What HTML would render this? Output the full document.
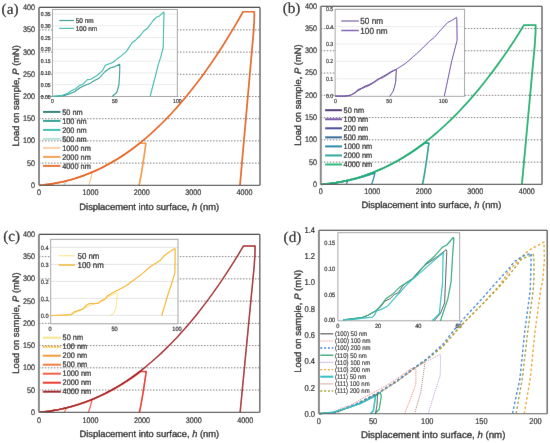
<!DOCTYPE html>
<html><head><meta charset="utf-8"><style>
html,body{margin:0;padding:0;background:#fff;}
svg{display:block;} text{text-rendering:geometricPrecision;}
</style></head><body>
<svg width="550" height="443" viewBox="0 0 550 443">
<defs><filter id="bl" x="-1%" y="-1%" width="102%" height="102%"><feConvolveMatrix order="3" kernelMatrix="0 1 0 1 16 1 0 1 0" edgeMode="duplicate"/></filter></defs>
<rect width="550" height="443" fill="#fff"/>
<g filter="url(#bl)">
<rect width="550" height="443" fill="#fff"/>
<line x1="39" y1="163.1" x2="260" y2="163.1" stroke="#7a7a7a" stroke-width="1.0" stroke-dasharray="1.5,1.5" stroke-linecap="butt"/>
<line x1="39" y1="140.9" x2="260" y2="140.9" stroke="#7a7a7a" stroke-width="1.0" stroke-dasharray="1.5,1.5" stroke-linecap="butt"/>
<line x1="39" y1="118.7" x2="260" y2="118.7" stroke="#7a7a7a" stroke-width="1.0" stroke-dasharray="1.5,1.5" stroke-linecap="butt"/>
<line x1="39" y1="96.5" x2="260" y2="96.5" stroke="#7a7a7a" stroke-width="1.0" stroke-dasharray="1.5,1.5" stroke-linecap="butt"/>
<line x1="39" y1="74.3" x2="260" y2="74.3" stroke="#7a7a7a" stroke-width="1.0" stroke-dasharray="1.5,1.5" stroke-linecap="butt"/>
<line x1="39" y1="52.1" x2="260" y2="52.1" stroke="#7a7a7a" stroke-width="1.0" stroke-dasharray="1.5,1.5" stroke-linecap="butt"/>
<line x1="39" y1="29.9" x2="260" y2="29.9" stroke="#7a7a7a" stroke-width="1.0" stroke-dasharray="1.5,1.5" stroke-linecap="butt"/>
<rect x="52.4" y="9.5" width="124.9" height="87" fill="#fff" stroke="none" stroke-width="1"/>
<line x1="52.4" y1="84.7" x2="177.3" y2="84.7" stroke="#e2e2e2" stroke-width="0.7" stroke-linecap="butt"/>
<line x1="52.4" y1="72.9" x2="177.3" y2="72.9" stroke="#e2e2e2" stroke-width="0.7" stroke-linecap="butt"/>
<line x1="52.4" y1="61.1" x2="177.3" y2="61.1" stroke="#e2e2e2" stroke-width="0.7" stroke-linecap="butt"/>
<line x1="52.4" y1="49.3" x2="177.3" y2="49.3" stroke="#e2e2e2" stroke-width="0.7" stroke-linecap="butt"/>
<line x1="52.4" y1="37.5" x2="177.3" y2="37.5" stroke="#e2e2e2" stroke-width="0.7" stroke-linecap="butt"/>
<line x1="52.4" y1="25.7" x2="177.3" y2="25.7" stroke="#e2e2e2" stroke-width="0.7" stroke-linecap="butt"/>
<line x1="52.4" y1="13.9" x2="177.3" y2="13.9" stroke="#e2e2e2" stroke-width="0.7" stroke-linecap="butt"/>
<rect x="52.4" y="9.5" width="124.9" height="87" fill="none" stroke="#9a9a9a" stroke-width="0.9"/>
<text transform="translate(50.6,98.5) scale(1,1.1)" x="0" y="0" font-size="5.1" text-anchor="end" fill="#2a2a2a" stroke="#2a2a2a" stroke-width="0.2" font-family='"Liberation Sans", sans-serif'>0.00</text>
<text transform="translate(50.6,86.7) scale(1,1.1)" x="0" y="0" font-size="5.1" text-anchor="end" fill="#2a2a2a" stroke="#2a2a2a" stroke-width="0.2" font-family='"Liberation Sans", sans-serif'>0.05</text>
<text transform="translate(50.6,74.9) scale(1,1.1)" x="0" y="0" font-size="5.1" text-anchor="end" fill="#2a2a2a" stroke="#2a2a2a" stroke-width="0.2" font-family='"Liberation Sans", sans-serif'>0.10</text>
<text transform="translate(50.6,63.1) scale(1,1.1)" x="0" y="0" font-size="5.1" text-anchor="end" fill="#2a2a2a" stroke="#2a2a2a" stroke-width="0.2" font-family='"Liberation Sans", sans-serif'>0.15</text>
<text transform="translate(50.6,51.3) scale(1,1.1)" x="0" y="0" font-size="5.1" text-anchor="end" fill="#2a2a2a" stroke="#2a2a2a" stroke-width="0.2" font-family='"Liberation Sans", sans-serif'>0.20</text>
<text transform="translate(50.6,39.5) scale(1,1.1)" x="0" y="0" font-size="5.1" text-anchor="end" fill="#2a2a2a" stroke="#2a2a2a" stroke-width="0.2" font-family='"Liberation Sans", sans-serif'>0.25</text>
<text transform="translate(50.6,27.7) scale(1,1.1)" x="0" y="0" font-size="5.1" text-anchor="end" fill="#2a2a2a" stroke="#2a2a2a" stroke-width="0.2" font-family='"Liberation Sans", sans-serif'>0.30</text>
<text transform="translate(50.6,15.9) scale(1,1.1)" x="0" y="0" font-size="5.1" text-anchor="end" fill="#2a2a2a" stroke="#2a2a2a" stroke-width="0.2" font-family='"Liberation Sans", sans-serif'>0.35</text>
<text transform="translate(52.4,102.6) scale(1,1.1)" x="0" y="0" font-size="5.1" text-anchor="middle" fill="#2a2a2a" stroke="#2a2a2a" stroke-width="0.2" font-family='"Liberation Sans", sans-serif'>0</text>
<text transform="translate(114.85,102.6) scale(1,1.1)" x="0" y="0" font-size="5.1" text-anchor="middle" fill="#2a2a2a" stroke="#2a2a2a" stroke-width="0.2" font-family='"Liberation Sans", sans-serif'>50</text>
<text transform="translate(177.3,102.6) scale(1,1.1)" x="0" y="0" font-size="5.1" text-anchor="middle" fill="#2a2a2a" stroke="#2a2a2a" stroke-width="0.2" font-family='"Liberation Sans", sans-serif'>100</text>
<polyline points="52.4,96.3 55.5,96.3 63.6,95.7 69.1,93.9 74.6,91.8 80,87.7 84.1,85.7 89.6,83.6 95,80.2 99.1,78.2 104.6,72 110,68 114.8,66.6 119.6,64.3 119.8,66 119.6,74.1 118.9,85 116.8,92.5 112.1,96.5" fill="none" stroke="#22998f" stroke-width="1.1" stroke-linejoin="round" stroke-linecap="butt"/>
<polyline points="52.4,96.3 54.1,96.3 62.3,95.2 67.7,93.2 71.8,90.5 75.2,89.1 79.3,85.7 82.7,84.3 87.5,79.6 90.9,79.3 93.7,77.5 97.1,75.5 102.5,70.7 105.3,65.2 108.7,63.9 112.8,62.5 116.8,59.1 120,56.8 126.2,51.6 130.4,45.4 132.5,42.3 135.6,40.2 140.8,35 143.9,30.8 147,28.8 153.2,20.5 156.3,17.3 159.5,15.9 163.6,12.2 164,12.6 163.6,28.8 163.2,47.5 160.5,57.8 158.4,64.1 155.3,76.5 150.1,96.5" fill="none" stroke="#2bb8ac" stroke-width="1.1" stroke-linejoin="round" stroke-linecap="butt"/>
<line x1="59.3" y1="20.5" x2="74" y2="20.5" stroke="#22998f" stroke-width="1.2" stroke-linecap="butt"/>
<text transform="translate(75.8,22.93) scale(1,1.08)" x="0" y="0" font-size="6.4" text-anchor="start" fill="#222" stroke="#222" stroke-width="0.22" font-family='"Liberation Sans", sans-serif'>50 nm</text>
<line x1="59.3" y1="28.4" x2="74" y2="28.4" stroke="#2bb8ac" stroke-width="1.2" stroke-linecap="butt"/>
<text transform="translate(75.8,30.83) scale(1,1.08)" x="0" y="0" font-size="6.4" text-anchor="start" fill="#222" stroke="#222" stroke-width="0.22" font-family='"Liberation Sans", sans-serif'>100 nm</text>
<polyline points="39,185.3 39.64,185.25 40.28,185.2 40.93,185.14 41.57,185.08 42.21,185.02 42.85,184.96 43.5,184.9 44.14,184.83 44.78,184.76 45.42,184.69 46.07,184.61 46.71,184.53 47.35,184.45 48,184.37 48.64,184.28 49.28,184.2 49.92,184.1 50.56,184.01 51.21,183.91 51.85,183.82 52.49,183.72 53.13,183.61 53.78,183.5 54.42,183.4 55.06,183.28 55.7,183.17 56.35,183.05 56.99,182.93 57.63,182.81 58.28,182.69 58.92,182.56 59.56,182.43 60.2,182.29 60.84,182.16 61.49,182.02 62.13,181.88 62.77,181.74 63.41,181.59 64.06,181.44 64.7,181.29 66.24,181.29 66.09,181.57 65.93,181.84 65.78,182.1 65.63,182.36 65.47,182.62 65.32,182.86 65.16,183.1 65.01,183.34 64.85,183.56 64.7,183.78 64.55,183.99 64.39,184.19 64.24,184.38 64.08,184.56 63.93,184.72 63.77,184.88 63.62,185.02 63.47,185.14 63.31,185.24 63.16,185.3" fill="none" stroke="#a8ddd6" stroke-width="1.2" stroke-linejoin="round" stroke-linecap="butt"/>
<polyline points="39,185.3 40.27,185.2 41.54,185.09 42.82,184.97 44.09,184.83 45.36,184.69 46.63,184.54 47.91,184.38 49.18,184.21 50.45,184.03 51.72,183.84 52.99,183.63 54.27,183.42 55.54,183.2 56.81,182.97 58.08,182.72 59.35,182.47 60.63,182.21 61.9,181.93 63.17,181.64 64.44,181.35 65.72,181.04 66.99,180.72 68.26,180.4 69.53,180.06 70.8,179.71 72.08,179.35 73.35,178.97 74.62,178.59 75.89,178.2 77.16,177.79 78.44,177.37 79.71,176.95 80.98,176.51 82.25,176.06 83.53,175.59 84.8,175.12 86.07,174.64 87.34,174.14 88.61,173.63 89.89,173.11 91.94,173.11 91.76,173.96 91.58,174.79 91.4,175.59 91.22,176.38 91.04,177.15 90.86,177.9 90.68,178.63 90.5,179.34 90.32,180.02 90.14,180.68 89.96,181.32 89.78,181.92 89.6,182.5 89.42,183.04 89.24,183.55 89.06,184.02 88.88,184.44 88.7,184.81 88.52,185.12 88.34,185.3" fill="none" stroke="#f8c490" stroke-width="1.2" stroke-linejoin="round" stroke-linecap="butt"/>
<polyline points="39,185.3 41.53,185.09 44.05,184.84 46.58,184.55 49.1,184.23 51.63,183.86 54.15,183.45 56.68,183.01 59.2,182.52 61.73,181.99 64.25,181.42 66.78,180.81 69.3,180.16 71.83,179.46 74.35,178.72 76.88,177.94 79.4,177.11 81.93,176.24 84.45,175.32 86.98,174.36 89.5,173.36 92.03,172.31 94.55,171.21 97.08,170.07 99.6,168.88 102.13,167.64 104.65,166.36 107.18,165.03 109.7,163.65 112.23,162.22 114.75,160.74 117.28,159.22 119.8,157.64 122.33,156.01 124.85,154.34 127.38,152.61 129.9,150.84 132.43,149.01 134.95,147.13 137.48,145.19 140,143.21 145.91,143.21 145.57,145.72 145.22,148.21 144.87,150.67 144.52,153.1 144.18,155.5 143.83,157.86 143.48,160.2 143.14,162.5 142.79,164.76 142.44,166.98 142.1,169.15 141.75,171.28 141.4,173.36 141.05,175.37 140.71,177.33 140.36,179.2 140.01,180.98 139.67,182.64 139.32,184.14 138.97,185.3" fill="none" stroke="#f59335" stroke-width="1.6" stroke-linejoin="round" stroke-linecap="butt"/>
<polyline points="39,185.3 44.1,184.83 49.2,184.21 54.3,183.42 59.41,182.46 64.51,181.33 69.61,180.04 74.71,178.56 79.81,176.91 84.91,175.08 90.01,173.06 95.12,170.86 100.22,168.46 105.32,165.87 110.42,163.09 115.52,160.1 120.62,156.92 125.72,153.52 130.83,149.92 135.93,146.11 141.03,142.08 146.13,137.84 151.23,133.37 156.33,128.68 161.43,123.76 166.54,118.61 171.64,113.23 176.74,107.62 181.84,101.76 186.94,95.67 192.04,89.32 197.14,82.73 202.25,75.89 207.35,68.8 212.45,61.44 217.55,53.83 222.65,45.95 227.75,37.81 232.86,29.4 237.96,20.71 243.06,11.75 254.37,11.75 254.22,20.43 253.5,32.58 239.97,185.3" fill="none" stroke="#e6620f" stroke-width="1.7" stroke-linejoin="round" stroke-linecap="butt"/>
<line x1="39" y1="185.3" x2="260" y2="185.3" stroke="#5a5a5a" stroke-width="1.15" stroke-linecap="butt"/>
<line x1="260" y1="7.4" x2="260" y2="185.3" stroke="#6a6a6a" stroke-width="1.5" stroke-linecap="butt"/>
<line x1="39" y1="7.4" x2="260" y2="7.4" stroke="#2a2a2a" stroke-width="1.1" stroke-linecap="butt"/>
<line x1="39" y1="7.4" x2="39" y2="185.3" stroke="#888" stroke-width="2" stroke-linecap="butt"/>
<line x1="43" y1="111.9" x2="60.5" y2="111.9" stroke="#1d8078" stroke-width="2" stroke-linecap="butt"/>
<text transform="translate(62.2,114.69) scale(1,1.08)" x="0" y="0" font-size="7.35" text-anchor="start" fill="#222" stroke="#222" stroke-width="0.22" font-family='"Liberation Sans", sans-serif'>50 nm</text>
<line x1="43" y1="120.9" x2="60.5" y2="120.9" stroke="#21a096" stroke-width="2" stroke-linecap="butt"/>
<text transform="translate(62.2,123.69) scale(1,1.08)" x="0" y="0" font-size="7.35" text-anchor="start" fill="#222" stroke="#222" stroke-width="0.22" font-family='"Liberation Sans", sans-serif'>100 nm</text>
<line x1="43" y1="129.9" x2="60.5" y2="129.9" stroke="#2fc0b2" stroke-width="2" stroke-linecap="butt"/>
<text transform="translate(62.2,132.69) scale(1,1.08)" x="0" y="0" font-size="7.35" text-anchor="start" fill="#222" stroke="#222" stroke-width="0.22" font-family='"Liberation Sans", sans-serif'>200 nm</text>
<line x1="43" y1="138.9" x2="60.5" y2="138.9" stroke="#b4e2dc" stroke-width="2" stroke-linecap="butt"/>
<text transform="translate(62.2,141.69) scale(1,1.08)" x="0" y="0" font-size="7.35" text-anchor="start" fill="#222" stroke="#222" stroke-width="0.22" font-family='"Liberation Sans", sans-serif'>500 nm</text>
<line x1="43" y1="147.9" x2="60.5" y2="147.9" stroke="#fad0a6" stroke-width="2" stroke-linecap="butt"/>
<text transform="translate(62.2,150.69) scale(1,1.08)" x="0" y="0" font-size="7.35" text-anchor="start" fill="#222" stroke="#222" stroke-width="0.22" font-family='"Liberation Sans", sans-serif'>1000 nm</text>
<line x1="43" y1="156.9" x2="60.5" y2="156.9" stroke="#f5a24e" stroke-width="2" stroke-linecap="butt"/>
<text transform="translate(62.2,159.69) scale(1,1.08)" x="0" y="0" font-size="7.35" text-anchor="start" fill="#222" stroke="#222" stroke-width="0.22" font-family='"Liberation Sans", sans-serif'>2000 nm</text>
<line x1="43" y1="165.9" x2="60.5" y2="165.9" stroke="#e8701e" stroke-width="2" stroke-linecap="butt"/>
<text transform="translate(62.2,168.69) scale(1,1.08)" x="0" y="0" font-size="7.35" text-anchor="start" fill="#222" stroke="#222" stroke-width="0.22" font-family='"Liberation Sans", sans-serif'>4000 nm</text>
<text transform="translate(35,187.75) scale(1,1.13)" x="0" y="0" font-size="7.2" text-anchor="end" fill="#222" stroke="#222" stroke-width="0.18" font-family='"Liberation Sans", sans-serif'>0</text>
<text transform="translate(35,165.55) scale(1,1.13)" x="0" y="0" font-size="7.2" text-anchor="end" fill="#222" stroke="#222" stroke-width="0.18" font-family='"Liberation Sans", sans-serif'>50</text>
<text transform="translate(35,143.35) scale(1,1.13)" x="0" y="0" font-size="7.2" text-anchor="end" fill="#222" stroke="#222" stroke-width="0.18" font-family='"Liberation Sans", sans-serif'>100</text>
<text transform="translate(35,121.15) scale(1,1.13)" x="0" y="0" font-size="7.2" text-anchor="end" fill="#222" stroke="#222" stroke-width="0.18" font-family='"Liberation Sans", sans-serif'>150</text>
<text transform="translate(35,98.95) scale(1,1.13)" x="0" y="0" font-size="7.2" text-anchor="end" fill="#222" stroke="#222" stroke-width="0.18" font-family='"Liberation Sans", sans-serif'>200</text>
<text transform="translate(35,76.75) scale(1,1.13)" x="0" y="0" font-size="7.2" text-anchor="end" fill="#222" stroke="#222" stroke-width="0.18" font-family='"Liberation Sans", sans-serif'>250</text>
<text transform="translate(35,54.55) scale(1,1.13)" x="0" y="0" font-size="7.2" text-anchor="end" fill="#222" stroke="#222" stroke-width="0.18" font-family='"Liberation Sans", sans-serif'>300</text>
<text transform="translate(35,32.35) scale(1,1.13)" x="0" y="0" font-size="7.2" text-anchor="end" fill="#222" stroke="#222" stroke-width="0.18" font-family='"Liberation Sans", sans-serif'>350</text>
<text transform="translate(35,10.15) scale(1,1.13)" x="0" y="0" font-size="7.2" text-anchor="end" fill="#222" stroke="#222" stroke-width="0.18" font-family='"Liberation Sans", sans-serif'>400</text>
<text transform="translate(39,195.2) scale(1,1.13)" x="0" y="0" font-size="7.2" text-anchor="middle" fill="#222" stroke="#222" stroke-width="0.18" font-family='"Liberation Sans", sans-serif'>0</text>
<text transform="translate(90.4,195.2) scale(1,1.13)" x="0" y="0" font-size="7.2" text-anchor="middle" fill="#222" stroke="#222" stroke-width="0.18" font-family='"Liberation Sans", sans-serif'>1000</text>
<text transform="translate(141.8,195.2) scale(1,1.13)" x="0" y="0" font-size="7.2" text-anchor="middle" fill="#222" stroke="#222" stroke-width="0.18" font-family='"Liberation Sans", sans-serif'>2000</text>
<text transform="translate(193.2,195.2) scale(1,1.13)" x="0" y="0" font-size="7.2" text-anchor="middle" fill="#222" stroke="#222" stroke-width="0.18" font-family='"Liberation Sans", sans-serif'>3000</text>
<text transform="translate(244.6,195.2) scale(1,1.13)" x="0" y="0" font-size="7.2" text-anchor="middle" fill="#222" stroke="#222" stroke-width="0.18" font-family='"Liberation Sans", sans-serif'>4000</text>
<text x="149.2" y="209.5" font-size="9.35" text-anchor="middle" fill="#222" stroke="#222" stroke-width="0.3" font-family='"Liberation Sans", sans-serif'>Displacement into surface, <tspan font-style="italic">h</tspan> (nm)</text>
<text transform="translate(19,95.75) rotate(-90)" x="0" y="0" font-size="9.35" text-anchor="middle" fill="#222" stroke="#222" stroke-width="0.3" font-family='"Liberation Sans", sans-serif'>Load on sample, <tspan font-style="italic">P</tspan> (mN)</text>
<text x="1.6" y="13.6" font-size="15.2" text-anchor="start" fill="#151515" stroke="#151515" stroke-width="0.2" font-family='"Liberation Serif", serif'>(a)</text>
<line x1="320.8" y1="162.12" x2="542" y2="162.12" stroke="#7a7a7a" stroke-width="1.0" stroke-dasharray="1.5,1.5" stroke-linecap="butt"/>
<line x1="320.8" y1="139.85" x2="542" y2="139.85" stroke="#7a7a7a" stroke-width="1.0" stroke-dasharray="1.5,1.5" stroke-linecap="butt"/>
<line x1="320.8" y1="117.58" x2="542" y2="117.58" stroke="#7a7a7a" stroke-width="1.0" stroke-dasharray="1.5,1.5" stroke-linecap="butt"/>
<line x1="320.8" y1="95.3" x2="542" y2="95.3" stroke="#7a7a7a" stroke-width="1.0" stroke-dasharray="1.5,1.5" stroke-linecap="butt"/>
<line x1="320.8" y1="73.03" x2="542" y2="73.03" stroke="#7a7a7a" stroke-width="1.0" stroke-dasharray="1.5,1.5" stroke-linecap="butt"/>
<line x1="320.8" y1="50.75" x2="542" y2="50.75" stroke="#7a7a7a" stroke-width="1.0" stroke-dasharray="1.5,1.5" stroke-linecap="butt"/>
<line x1="320.8" y1="28.48" x2="542" y2="28.48" stroke="#7a7a7a" stroke-width="1.0" stroke-dasharray="1.5,1.5" stroke-linecap="butt"/>
<rect x="335.1" y="9.3" width="129.5" height="87" fill="#fff" stroke="none" stroke-width="1"/>
<line x1="335.1" y1="78.8" x2="464.6" y2="78.8" stroke="#e2e2e2" stroke-width="0.7" stroke-linecap="butt"/>
<line x1="335.1" y1="61.4" x2="464.6" y2="61.4" stroke="#e2e2e2" stroke-width="0.7" stroke-linecap="butt"/>
<line x1="335.1" y1="44" x2="464.6" y2="44" stroke="#e2e2e2" stroke-width="0.7" stroke-linecap="butt"/>
<line x1="335.1" y1="26.6" x2="464.6" y2="26.6" stroke="#e2e2e2" stroke-width="0.7" stroke-linecap="butt"/>
<line x1="335.1" y1="9.2" x2="464.6" y2="9.2" stroke="#e2e2e2" stroke-width="0.7" stroke-linecap="butt"/>
<rect x="335.1" y="9.3" width="129.5" height="87" fill="none" stroke="#9a9a9a" stroke-width="0.9"/>
<text transform="translate(333.3,98.2) scale(1,1.1)" x="0" y="0" font-size="5.3" text-anchor="end" fill="#2a2a2a" stroke="#2a2a2a" stroke-width="0.2" font-family='"Liberation Sans", sans-serif'>0.0</text>
<text transform="translate(333.3,80.8) scale(1,1.1)" x="0" y="0" font-size="5.3" text-anchor="end" fill="#2a2a2a" stroke="#2a2a2a" stroke-width="0.2" font-family='"Liberation Sans", sans-serif'>0.1</text>
<text transform="translate(333.3,63.4) scale(1,1.1)" x="0" y="0" font-size="5.3" text-anchor="end" fill="#2a2a2a" stroke="#2a2a2a" stroke-width="0.2" font-family='"Liberation Sans", sans-serif'>0.2</text>
<text transform="translate(333.3,46) scale(1,1.1)" x="0" y="0" font-size="5.3" text-anchor="end" fill="#2a2a2a" stroke="#2a2a2a" stroke-width="0.2" font-family='"Liberation Sans", sans-serif'>0.3</text>
<text transform="translate(333.3,28.6) scale(1,1.1)" x="0" y="0" font-size="5.3" text-anchor="end" fill="#2a2a2a" stroke="#2a2a2a" stroke-width="0.2" font-family='"Liberation Sans", sans-serif'>0.4</text>
<text transform="translate(333.3,11.2) scale(1,1.1)" x="0" y="0" font-size="5.3" text-anchor="end" fill="#2a2a2a" stroke="#2a2a2a" stroke-width="0.2" font-family='"Liberation Sans", sans-serif'>0.5</text>
<text transform="translate(335.4,102.8) scale(1,1.1)" x="0" y="0" font-size="5.3" text-anchor="middle" fill="#2a2a2a" stroke="#2a2a2a" stroke-width="0.2" font-family='"Liberation Sans", sans-serif'>0</text>
<text transform="translate(389.3,102.8) scale(1,1.1)" x="0" y="0" font-size="5.3" text-anchor="middle" fill="#2a2a2a" stroke="#2a2a2a" stroke-width="0.2" font-family='"Liberation Sans", sans-serif'>50</text>
<text transform="translate(443.2,102.8) scale(1,1.1)" x="0" y="0" font-size="5.3" text-anchor="middle" fill="#2a2a2a" stroke="#2a2a2a" stroke-width="0.2" font-family='"Liberation Sans", sans-serif'>100</text>
<polyline points="335,96.1 345,96.1 350,95.6 354.8,92.6 358,89.6 361.4,88.2 365,86.2 369,84.6 373,82.6 377.7,79.2 380,78.2 383.2,76.2 387,74.2 390.8,71.7 394,70.2 396.3,69.3 396.4,69.5 396,75 395.7,81.8 394.5,87 393,91.6 389.7,96.3" fill="none" stroke="#553a8a" stroke-width="1.0" stroke-linejoin="round" stroke-linecap="butt"/>
<polyline points="335,96.1 345,96 350,95.2 354.8,93.3 358,90.8 361.4,88.9 365,87.2 369,85.6 373,83.2 377.7,80.2 380,78.6 383.2,77.4 387,75 390.8,72.5 394,70.6 396.3,69.3 401.4,66.1 405,63.8 410,59.6 416.4,53.9 422.9,47.9 429.3,41.4 434.6,37.1 441.1,29.6 447.5,22.6 451.8,20.4 456.5,17.4 456.8,18.5 457.1,40.4 451.8,60.7 444.3,96.2" fill="none" stroke="#6a48a8" stroke-width="1.0" stroke-linejoin="round" stroke-linecap="butt"/>
<line x1="341.2" y1="21" x2="358.9" y2="21" stroke="#7a5fa8" stroke-width="1.2" stroke-linecap="butt"/>
<text transform="translate(360.3,24.12) scale(1,1.08)" x="0" y="0" font-size="8.2" text-anchor="start" fill="#222" stroke="#222" stroke-width="0.22" font-family='"Liberation Sans", sans-serif'>50 nm</text>
<line x1="341.2" y1="30.5" x2="358.9" y2="30.5" stroke="#7f5fb5" stroke-width="1.5" stroke-linecap="butt"/>
<text transform="translate(360.3,33.62) scale(1,1.08)" x="0" y="0" font-size="8.2" text-anchor="start" fill="#222" stroke="#222" stroke-width="0.22" font-family='"Liberation Sans", sans-serif'>100 nm</text>
<polyline points="320.8,184.4 321.45,184.35 322.1,184.3 322.75,184.25 323.41,184.19 324.06,184.14 324.71,184.07 325.36,184.01 326.01,183.95 326.66,183.88 327.31,183.81 327.97,183.74 328.62,183.66 329.27,183.58 329.92,183.5 330.57,183.42 331.22,183.34 331.88,183.25 332.53,183.16 333.18,183.07 333.83,182.97 334.48,182.87 335.13,182.77 335.78,182.67 336.44,182.56 337.09,182.46 337.74,182.35 338.39,182.23 339.04,182.12 339.69,182 340.34,181.88 341,181.76 341.65,181.63 342.3,181.5 342.95,181.37 343.6,181.24 344.25,181.1 344.9,180.96 345.56,180.82 346.21,180.68 346.86,180.53 347.58,180.53 347.5,180.8 347.43,181.06 347.35,181.32 347.27,181.57 347.19,181.81 347.12,182.05 347.04,182.28 346.96,182.51 346.88,182.72 346.81,182.93 346.73,183.13 346.65,183.33 346.58,183.51 346.5,183.68 346.42,183.84 346.34,183.99 346.27,184.13 346.19,184.25 346.11,184.34 346.04,184.4" fill="none" stroke="#2a68a0" stroke-width="1.2" stroke-linejoin="round" stroke-linecap="butt"/>
<polyline points="320.8,184.4 322.14,184.31 323.47,184.21 324.81,184.1 326.14,183.98 327.48,183.86 328.81,183.72 330.15,183.58 331.48,183.42 332.82,183.26 334.15,183.09 335.49,182.9 336.82,182.71 338.16,182.51 339.49,182.3 340.83,182.08 342.16,181.85 343.5,181.61 344.83,181.36 346.17,181.1 347.5,180.83 348.84,180.55 350.17,180.26 351.51,179.96 352.84,179.65 354.18,179.33 355.51,179 356.85,178.66 358.18,178.31 359.52,177.95 360.85,177.58 362.19,177.2 363.52,176.81 364.86,176.41 366.19,176 367.53,175.57 368.86,175.14 370.2,174.7 371.54,174.25 372.87,173.78 374.21,173.31 374.88,173.31 374.69,174.08 374.51,174.83 374.33,175.56 374.15,176.28 373.97,176.98 373.79,177.67 373.61,178.33 373.43,178.97 373.25,179.6 373.07,180.2 372.89,180.77 372.71,181.32 372.53,181.85 372.35,182.34 372.17,182.81 371.99,183.23 371.81,183.62 371.63,183.96 371.45,184.23 371.27,184.4" fill="none" stroke="#1a88a8" stroke-width="1.3" stroke-linejoin="round" stroke-linecap="butt"/>
<polyline points="320.8,184.4 323.4,184.2 326,183.95 328.6,183.67 331.2,183.36 333.8,183 336.4,182.6 339,182.16 341.6,181.68 344.2,181.16 346.79,180.6 349.39,180 351.99,179.36 354.59,178.67 357.19,177.95 359.79,177.18 362.39,176.36 364.99,175.51 367.59,174.61 370.19,173.66 372.79,172.68 375.39,171.64 377.99,170.57 380.59,169.44 383.19,168.27 385.79,167.06 388.39,165.8 390.99,164.49 393.58,163.14 396.18,161.74 398.78,160.29 401.38,158.79 403.98,157.24 406.58,155.65 409.18,154.01 411.78,152.32 414.38,150.57 416.98,148.78 419.58,146.94 422.18,145.05 424.78,143.1 428.9,143.1 428.57,145.57 428.25,148.01 427.93,150.42 427.6,152.8 427.28,155.16 426.95,157.48 426.63,159.77 426.3,162.03 425.98,164.25 425.65,166.42 425.33,168.56 425.01,170.65 424.68,172.68 424.36,174.66 424.03,176.58 423.71,178.41 423.38,180.16 423.06,181.79 422.73,183.27 422.41,184.4" fill="none" stroke="#159e90" stroke-width="1.6" stroke-linejoin="round" stroke-linecap="butt"/>
<polyline points="320.8,184.4 325.88,183.96 330.96,183.37 336.04,182.63 341.12,181.73 346.2,180.68 351.28,179.46 356.36,178.09 361.44,176.55 366.52,174.84 371.6,172.96 376.69,170.91 381.77,168.69 386.85,166.28 391.93,163.7 397.01,160.94 402.09,157.98 407.17,154.85 412.25,151.52 417.33,148 422.41,144.28 427.49,140.37 432.57,136.25 437.65,131.94 442.73,127.41 447.81,122.68 452.89,117.74 457.97,112.59 463.05,107.22 468.13,101.63 473.21,95.83 478.29,89.8 483.38,83.54 488.46,77.06 493.54,70.34 498.62,63.39 503.7,56.21 508.78,48.79 513.86,41.13 518.94,33.22 524.02,25.07 535.66,25.07 535.52,33.04 534.83,44.19 521.91,184.4" fill="none" stroke="#12b070" stroke-width="1.8" stroke-linejoin="round" stroke-linecap="butt"/>
<line x1="320.8" y1="184.4" x2="542" y2="184.4" stroke="#5a5a5a" stroke-width="1.15" stroke-linecap="butt"/>
<line x1="542" y1="6.2" x2="542" y2="184.4" stroke="#6a6a6a" stroke-width="1.5" stroke-linecap="butt"/>
<line x1="320.8" y1="6.2" x2="542" y2="6.2" stroke="#2a2a2a" stroke-width="1.1" stroke-linecap="butt"/>
<line x1="320.8" y1="6.2" x2="320.8" y2="184.4" stroke="#888" stroke-width="2" stroke-linecap="butt"/>
<line x1="325.1" y1="110.2" x2="342" y2="110.2" stroke="#4a3272" stroke-width="2" stroke-linecap="butt"/>
<text transform="translate(343.6,112.99) scale(1,1.08)" x="0" y="0" font-size="7.35" text-anchor="start" fill="#222" stroke="#222" stroke-width="0.22" font-family='"Liberation Sans", sans-serif'>50 nm</text>
<line x1="325.1" y1="119.25" x2="342" y2="119.25" stroke="#7a52a8" stroke-width="2" stroke-linecap="butt"/>
<text transform="translate(343.6,122.04) scale(1,1.08)" x="0" y="0" font-size="7.35" text-anchor="start" fill="#222" stroke="#222" stroke-width="0.22" font-family='"Liberation Sans", sans-serif'>100 nm</text>
<line x1="325.1" y1="128.3" x2="342" y2="128.3" stroke="#44489a" stroke-width="2" stroke-linecap="butt"/>
<text transform="translate(343.6,131.09) scale(1,1.08)" x="0" y="0" font-size="7.35" text-anchor="start" fill="#222" stroke="#222" stroke-width="0.22" font-family='"Liberation Sans", sans-serif'>200 nm</text>
<line x1="325.1" y1="137.35" x2="342" y2="137.35" stroke="#2a6a9a" stroke-width="2" stroke-linecap="butt"/>
<text transform="translate(343.6,140.14) scale(1,1.08)" x="0" y="0" font-size="7.35" text-anchor="start" fill="#222" stroke="#222" stroke-width="0.22" font-family='"Liberation Sans", sans-serif'>500 nm</text>
<line x1="325.1" y1="146.4" x2="342" y2="146.4" stroke="#1a8aa6" stroke-width="2" stroke-linecap="butt"/>
<text transform="translate(343.6,149.19) scale(1,1.08)" x="0" y="0" font-size="7.35" text-anchor="start" fill="#222" stroke="#222" stroke-width="0.22" font-family='"Liberation Sans", sans-serif'>1000 nm</text>
<line x1="325.1" y1="155.45" x2="342" y2="155.45" stroke="#20a89c" stroke-width="2" stroke-linecap="butt"/>
<text transform="translate(343.6,158.24) scale(1,1.08)" x="0" y="0" font-size="7.35" text-anchor="start" fill="#222" stroke="#222" stroke-width="0.22" font-family='"Liberation Sans", sans-serif'>2000 nm</text>
<line x1="325.1" y1="164.5" x2="342" y2="164.5" stroke="#20ba7a" stroke-width="2" stroke-linecap="butt"/>
<text transform="translate(343.6,167.29) scale(1,1.08)" x="0" y="0" font-size="7.35" text-anchor="start" fill="#222" stroke="#222" stroke-width="0.22" font-family='"Liberation Sans", sans-serif'>4000 nm</text>
<text transform="translate(317,186.85) scale(1,1.13)" x="0" y="0" font-size="7.2" text-anchor="end" fill="#222" stroke="#222" stroke-width="0.18" font-family='"Liberation Sans", sans-serif'>0</text>
<text transform="translate(317,164.57) scale(1,1.13)" x="0" y="0" font-size="7.2" text-anchor="end" fill="#222" stroke="#222" stroke-width="0.18" font-family='"Liberation Sans", sans-serif'>50</text>
<text transform="translate(317,142.3) scale(1,1.13)" x="0" y="0" font-size="7.2" text-anchor="end" fill="#222" stroke="#222" stroke-width="0.18" font-family='"Liberation Sans", sans-serif'>100</text>
<text transform="translate(317,120.02) scale(1,1.13)" x="0" y="0" font-size="7.2" text-anchor="end" fill="#222" stroke="#222" stroke-width="0.18" font-family='"Liberation Sans", sans-serif'>150</text>
<text transform="translate(317,97.75) scale(1,1.13)" x="0" y="0" font-size="7.2" text-anchor="end" fill="#222" stroke="#222" stroke-width="0.18" font-family='"Liberation Sans", sans-serif'>200</text>
<text transform="translate(317,75.47) scale(1,1.13)" x="0" y="0" font-size="7.2" text-anchor="end" fill="#222" stroke="#222" stroke-width="0.18" font-family='"Liberation Sans", sans-serif'>250</text>
<text transform="translate(317,53.2) scale(1,1.13)" x="0" y="0" font-size="7.2" text-anchor="end" fill="#222" stroke="#222" stroke-width="0.18" font-family='"Liberation Sans", sans-serif'>300</text>
<text transform="translate(317,30.92) scale(1,1.13)" x="0" y="0" font-size="7.2" text-anchor="end" fill="#222" stroke="#222" stroke-width="0.18" font-family='"Liberation Sans", sans-serif'>350</text>
<text transform="translate(317,8.65) scale(1,1.13)" x="0" y="0" font-size="7.2" text-anchor="end" fill="#222" stroke="#222" stroke-width="0.18" font-family='"Liberation Sans", sans-serif'>400</text>
<text transform="translate(320.8,194) scale(1,1.13)" x="0" y="0" font-size="7.2" text-anchor="middle" fill="#222" stroke="#222" stroke-width="0.18" font-family='"Liberation Sans", sans-serif'>0</text>
<text transform="translate(372.3,194) scale(1,1.13)" x="0" y="0" font-size="7.2" text-anchor="middle" fill="#222" stroke="#222" stroke-width="0.18" font-family='"Liberation Sans", sans-serif'>1000</text>
<text transform="translate(423.8,194) scale(1,1.13)" x="0" y="0" font-size="7.2" text-anchor="middle" fill="#222" stroke="#222" stroke-width="0.18" font-family='"Liberation Sans", sans-serif'>2000</text>
<text transform="translate(475.3,194) scale(1,1.13)" x="0" y="0" font-size="7.2" text-anchor="middle" fill="#222" stroke="#222" stroke-width="0.18" font-family='"Liberation Sans", sans-serif'>3000</text>
<text transform="translate(526.8,194) scale(1,1.13)" x="0" y="0" font-size="7.2" text-anchor="middle" fill="#222" stroke="#222" stroke-width="0.18" font-family='"Liberation Sans", sans-serif'>4000</text>
<text x="431.4" y="207.7" font-size="9.35" text-anchor="middle" fill="#222" stroke="#222" stroke-width="0.3" font-family='"Liberation Sans", sans-serif'>Displacement into surface, <tspan font-style="italic">h</tspan> (nm)</text>
<text transform="translate(300.6,95.1) rotate(-90)" x="0" y="0" font-size="9.35" text-anchor="middle" fill="#222" stroke="#222" stroke-width="0.3" font-family='"Liberation Sans", sans-serif'>Load on sample, <tspan font-style="italic">P</tspan> (mN)</text>
<text x="282.7" y="13.2" font-size="15.2" text-anchor="start" fill="#151515" stroke="#151515" stroke-width="0.2" font-family='"Liberation Serif", serif'>(b)</text>
<line x1="38.9" y1="390.06" x2="259.8" y2="390.06" stroke="#7a7a7a" stroke-width="1.0" stroke-dasharray="1.5,1.5" stroke-linecap="butt"/>
<line x1="38.9" y1="367.82" x2="259.8" y2="367.82" stroke="#7a7a7a" stroke-width="1.0" stroke-dasharray="1.5,1.5" stroke-linecap="butt"/>
<line x1="38.9" y1="345.59" x2="259.8" y2="345.59" stroke="#7a7a7a" stroke-width="1.0" stroke-dasharray="1.5,1.5" stroke-linecap="butt"/>
<line x1="38.9" y1="323.35" x2="259.8" y2="323.35" stroke="#7a7a7a" stroke-width="1.0" stroke-dasharray="1.5,1.5" stroke-linecap="butt"/>
<line x1="38.9" y1="301.11" x2="259.8" y2="301.11" stroke="#7a7a7a" stroke-width="1.0" stroke-dasharray="1.5,1.5" stroke-linecap="butt"/>
<line x1="38.9" y1="278.88" x2="259.8" y2="278.88" stroke="#7a7a7a" stroke-width="1.0" stroke-dasharray="1.5,1.5" stroke-linecap="butt"/>
<line x1="38.9" y1="256.64" x2="259.8" y2="256.64" stroke="#7a7a7a" stroke-width="1.0" stroke-dasharray="1.5,1.5" stroke-linecap="butt"/>
<rect x="50.7" y="239.3" width="127.3" height="84.5" fill="#fff" stroke="none" stroke-width="1"/>
<line x1="50.7" y1="315.4" x2="178" y2="315.4" stroke="#dcdcdc" stroke-width="0.8" stroke-linecap="butt"/>
<line x1="50.7" y1="298.4" x2="178" y2="298.4" stroke="#dcdcdc" stroke-width="0.8" stroke-linecap="butt"/>
<line x1="50.7" y1="281.4" x2="178" y2="281.4" stroke="#dcdcdc" stroke-width="0.8" stroke-linecap="butt"/>
<line x1="50.7" y1="264.4" x2="178" y2="264.4" stroke="#dcdcdc" stroke-width="0.8" stroke-linecap="butt"/>
<line x1="50.7" y1="247.4" x2="178" y2="247.4" stroke="#dcdcdc" stroke-width="0.8" stroke-linecap="butt"/>
<rect x="50.7" y="239.3" width="127.3" height="84.5" fill="none" stroke="#9a9a9a" stroke-width="0.9"/>
<text transform="translate(48.5,317.5) scale(1,1.1)" x="0" y="0" font-size="5.6" text-anchor="end" fill="#2a2a2a" stroke="#2a2a2a" stroke-width="0.2" font-family='"Liberation Sans", sans-serif'>0.0</text>
<text transform="translate(48.5,300.5) scale(1,1.1)" x="0" y="0" font-size="5.6" text-anchor="end" fill="#2a2a2a" stroke="#2a2a2a" stroke-width="0.2" font-family='"Liberation Sans", sans-serif'>0.1</text>
<text transform="translate(48.5,283.5) scale(1,1.1)" x="0" y="0" font-size="5.6" text-anchor="end" fill="#2a2a2a" stroke="#2a2a2a" stroke-width="0.2" font-family='"Liberation Sans", sans-serif'>0.2</text>
<text transform="translate(48.5,266.5) scale(1,1.1)" x="0" y="0" font-size="5.6" text-anchor="end" fill="#2a2a2a" stroke="#2a2a2a" stroke-width="0.2" font-family='"Liberation Sans", sans-serif'>0.3</text>
<text transform="translate(48.5,249.5) scale(1,1.1)" x="0" y="0" font-size="5.6" text-anchor="end" fill="#2a2a2a" stroke="#2a2a2a" stroke-width="0.2" font-family='"Liberation Sans", sans-serif'>0.4</text>
<text transform="translate(50,330.9) scale(1,1.1)" x="0" y="0" font-size="5.6" text-anchor="middle" fill="#2a2a2a" stroke="#2a2a2a" stroke-width="0.2" font-family='"Liberation Sans", sans-serif'>0</text>
<text transform="translate(114.6,330.9) scale(1,1.1)" x="0" y="0" font-size="5.6" text-anchor="middle" fill="#2a2a2a" stroke="#2a2a2a" stroke-width="0.2" font-family='"Liberation Sans", sans-serif'>50</text>
<text transform="translate(177,330.9) scale(1,1.1)" x="0" y="0" font-size="5.6" text-anchor="middle" fill="#2a2a2a" stroke="#2a2a2a" stroke-width="0.2" font-family='"Liberation Sans", sans-serif'>100</text>
<polyline points="50.7,315.5 63.6,315.2 71.1,314.8 77.3,311.8 85.5,307.7 95,303.6 104.6,298.9 110,296.1 116.8,292.7 117.5,293.4 116.2,306.4 114.1,313.2 110,315.5" fill="none" stroke="#f6e27a" stroke-width="0.9" stroke-linejoin="round" stroke-linecap="butt"/>
<polyline points="50.7,315.5 54.1,315.5 63.6,315 71.1,314.6 73.9,312.1 77.3,310.7 82.7,309.1 86.8,305 89.6,303.6 98.4,303.4 101.2,300.9 104.6,299.6 107.3,296.1 114.1,292.1 120,288.9 126.1,285.8 134.2,279.7 142.4,273.6 150.5,266.5 159.7,260.8 163.7,256.3 168.8,252.3 174.9,248.6 175.2,250 174.9,272.6 171.9,282.8 167.8,295 161.7,315.7" fill="none" stroke="#f6b414" stroke-width="1.15" stroke-linejoin="round" stroke-linecap="butt"/>
<line x1="58.6" y1="255.8" x2="74.9" y2="255.8" stroke="#f7e27a" stroke-width="1.0" stroke-linecap="butt"/>
<text transform="translate(77.5,258.8) scale(1,1.08)" x="0" y="0" font-size="7.9" text-anchor="start" fill="#222" stroke="#222" stroke-width="0.22" font-family='"Liberation Sans", sans-serif'>50 nm</text>
<line x1="58.6" y1="265" x2="74.9" y2="265" stroke="#f5b830" stroke-width="1.5" stroke-linecap="butt"/>
<text transform="translate(77.5,268) scale(1,1.08)" x="0" y="0" font-size="7.9" text-anchor="start" fill="#222" stroke="#222" stroke-width="0.22" font-family='"Liberation Sans", sans-serif'>100 nm</text>
<polyline points="38.9,412.3 39.56,412.24 40.23,412.18 40.89,412.12 41.56,412.06 42.22,411.99 42.89,411.92 43.55,411.85 44.21,411.77 44.88,411.7 45.54,411.62 46.21,411.53 46.87,411.45 47.54,411.36 48.2,411.27 48.87,411.18 49.53,411.08 50.19,410.99 50.86,410.89 51.52,410.78 52.19,410.68 52.85,410.57 53.52,410.46 54.18,410.35 54.84,410.23 55.51,410.11 56.17,409.99 56.84,409.87 57.5,409.74 58.17,409.61 58.83,409.48 59.49,409.34 60.16,409.21 60.82,409.07 61.49,408.92 62.15,408.78 62.82,408.63 63.48,408.48 64.15,408.33 64.81,408.17 65.47,408.01 66.25,408.01 66.13,408.31 66.02,408.6 65.91,408.88 65.79,409.16 65.68,409.43 65.57,409.7 65.45,409.95 65.34,410.2 65.23,410.44 65.11,410.67 65,410.9 64.89,411.11 64.77,411.31 64.66,411.51 64.55,411.68 64.43,411.85 64.32,412 64.2,412.13 64.09,412.24 63.98,412.3" fill="none" stroke="#f07a3a" stroke-width="1.2" stroke-linejoin="round" stroke-linecap="butt"/>
<polyline points="38.9,412.3 40.2,412.19 41.51,412.06 42.81,411.93 44.11,411.79 45.41,411.63 46.72,411.47 48.02,411.3 49.32,411.11 50.63,410.92 51.93,410.72 53.23,410.51 54.53,410.28 55.84,410.05 57.14,409.81 58.44,409.56 59.75,409.29 61.05,409.02 62.35,408.73 63.66,408.44 64.96,408.13 66.26,407.82 67.56,407.49 68.87,407.16 70.17,406.81 71.47,406.45 72.78,406.08 74.08,405.7 75.38,405.31 76.68,404.91 77.99,404.5 79.29,404.07 80.59,403.64 81.9,403.19 83.2,402.73 84.5,402.27 85.8,401.79 87.11,401.3 88.41,400.79 89.71,400.28 91.02,399.76 92.05,399.76 91.84,400.62 91.64,401.48 91.43,402.31 91.22,403.12 91.02,403.91 90.81,404.69 90.6,405.44 90.4,406.16 90.19,406.87 89.98,407.55 89.78,408.2 89.57,408.82 89.36,409.41 89.16,409.98 88.95,410.5 88.75,410.98 88.54,411.42 88.33,411.8 88.13,412.11 87.92,412.3" fill="none" stroke="#f05a44" stroke-width="1.3" stroke-linejoin="round" stroke-linecap="butt"/>
<polyline points="38.9,412.3 41.45,412.07 44,411.81 46.54,411.51 49.09,411.17 51.64,410.8 54.19,410.39 56.73,409.94 59.28,409.45 61.83,408.92 64.38,408.35 66.93,407.75 69.47,407.1 72.02,406.42 74.57,405.69 77.12,404.93 79.66,404.12 82.21,403.27 84.76,402.38 87.31,401.45 89.85,400.47 92.4,399.45 94.95,398.39 97.5,397.29 100.05,396.14 102.59,394.94 105.14,393.7 107.69,392.42 110.24,391.09 112.78,389.72 115.33,388.3 117.88,386.83 120.43,385.32 122.98,383.75 125.52,382.14 128.07,380.49 130.62,378.78 133.17,377.03 135.71,375.23 138.26,373.37 140.81,371.47 146.23,371.47 145.88,373.91 145.53,376.32 145.18,378.71 144.83,381.06 144.49,383.39 144.14,385.69 143.79,387.95 143.44,390.18 143.09,392.38 142.75,394.53 142.4,396.64 142.05,398.7 141.7,400.72 141.35,402.67 141,404.56 140.66,406.38 140.31,408.11 139.96,409.72 139.61,411.18 139.26,412.3" fill="none" stroke="#e82a1a" stroke-width="1.6" stroke-linejoin="round" stroke-linecap="butt"/>
<polyline points="38.9,412.3 44.01,411.8 49.12,411.14 54.24,410.34 59.35,409.37 64.46,408.25 69.57,406.97 74.69,405.52 79.8,403.9 84.91,402.12 90.02,400.16 95.13,398.02 100.25,395.7 105.36,393.2 110.47,390.52 115.58,387.65 120.7,384.58 125.81,381.32 130.92,377.87 136.03,374.21 141.15,370.35 146.26,366.29 151.37,362.02 156.48,357.53 161.59,352.83 166.71,347.91 171.82,342.78 176.93,337.41 182.04,331.83 187.16,326.01 192.27,319.96 197.38,313.67 202.49,307.15 207.6,300.38 212.72,293.37 217.83,286.12 222.94,278.61 228.05,270.85 233.17,262.84 238.28,254.56 243.39,246.03 255.1,246.03 254.95,254.34 254.21,265.98 240.14,412.3" fill="none" stroke="#a01820" stroke-width="1.5" stroke-linejoin="round" stroke-linecap="butt"/>
<line x1="38.9" y1="412.3" x2="259.8" y2="412.3" stroke="#5a5a5a" stroke-width="1.15" stroke-linecap="butt"/>
<line x1="259.8" y1="234.4" x2="259.8" y2="412.3" stroke="#6a6a6a" stroke-width="1.5" stroke-linecap="butt"/>
<line x1="38.9" y1="234.4" x2="259.8" y2="234.4" stroke="#2a2a2a" stroke-width="1.1" stroke-linecap="butt"/>
<line x1="38.9" y1="234.4" x2="38.9" y2="412.3" stroke="#888" stroke-width="2" stroke-linecap="butt"/>
<line x1="42.8" y1="337.7" x2="60.9" y2="337.7" stroke="#f6e68c" stroke-width="2" stroke-linecap="butt"/>
<text transform="translate(62.6,340.49) scale(1,1.08)" x="0" y="0" font-size="7.35" text-anchor="start" fill="#222" stroke="#222" stroke-width="0.22" font-family='"Liberation Sans", sans-serif'>50 nm</text>
<line x1="42.8" y1="346.7" x2="60.9" y2="346.7" stroke="#f5b52a" stroke-width="2" stroke-dasharray="2,0.8" stroke-linecap="butt"/>
<text transform="translate(62.6,349.49) scale(1,1.08)" x="0" y="0" font-size="7.35" text-anchor="start" fill="#222" stroke="#222" stroke-width="0.22" font-family='"Liberation Sans", sans-serif'>100 nm</text>
<line x1="42.8" y1="355.7" x2="60.9" y2="355.7" stroke="#f59a32" stroke-width="2" stroke-linecap="butt"/>
<text transform="translate(62.6,358.49) scale(1,1.08)" x="0" y="0" font-size="7.35" text-anchor="start" fill="#222" stroke="#222" stroke-width="0.22" font-family='"Liberation Sans", sans-serif'>200 nm</text>
<line x1="42.8" y1="364.7" x2="60.9" y2="364.7" stroke="#f07a40" stroke-width="2" stroke-linecap="butt"/>
<text transform="translate(62.6,367.49) scale(1,1.08)" x="0" y="0" font-size="7.35" text-anchor="start" fill="#222" stroke="#222" stroke-width="0.22" font-family='"Liberation Sans", sans-serif'>500 nm</text>
<line x1="42.8" y1="373.7" x2="60.9" y2="373.7" stroke="#f05a42" stroke-width="2" stroke-linecap="butt"/>
<text transform="translate(62.6,376.49) scale(1,1.08)" x="0" y="0" font-size="7.35" text-anchor="start" fill="#222" stroke="#222" stroke-width="0.22" font-family='"Liberation Sans", sans-serif'>1000 nm</text>
<line x1="42.8" y1="382.7" x2="60.9" y2="382.7" stroke="#e83020" stroke-width="2" stroke-linecap="butt"/>
<text transform="translate(62.6,385.49) scale(1,1.08)" x="0" y="0" font-size="7.35" text-anchor="start" fill="#222" stroke="#222" stroke-width="0.22" font-family='"Liberation Sans", sans-serif'>2000 nm</text>
<line x1="42.8" y1="391.7" x2="60.9" y2="391.7" stroke="#a02024" stroke-width="2" stroke-linecap="butt"/>
<text transform="translate(62.6,394.49) scale(1,1.08)" x="0" y="0" font-size="7.35" text-anchor="start" fill="#222" stroke="#222" stroke-width="0.22" font-family='"Liberation Sans", sans-serif'>4000 nm</text>
<text transform="translate(35,414.75) scale(1,1.13)" x="0" y="0" font-size="7.2" text-anchor="end" fill="#222" stroke="#222" stroke-width="0.18" font-family='"Liberation Sans", sans-serif'>0</text>
<text transform="translate(35,392.51) scale(1,1.13)" x="0" y="0" font-size="7.2" text-anchor="end" fill="#222" stroke="#222" stroke-width="0.18" font-family='"Liberation Sans", sans-serif'>50</text>
<text transform="translate(35,370.27) scale(1,1.13)" x="0" y="0" font-size="7.2" text-anchor="end" fill="#222" stroke="#222" stroke-width="0.18" font-family='"Liberation Sans", sans-serif'>100</text>
<text transform="translate(35,348.04) scale(1,1.13)" x="0" y="0" font-size="7.2" text-anchor="end" fill="#222" stroke="#222" stroke-width="0.18" font-family='"Liberation Sans", sans-serif'>150</text>
<text transform="translate(35,325.8) scale(1,1.13)" x="0" y="0" font-size="7.2" text-anchor="end" fill="#222" stroke="#222" stroke-width="0.18" font-family='"Liberation Sans", sans-serif'>200</text>
<text transform="translate(35,303.56) scale(1,1.13)" x="0" y="0" font-size="7.2" text-anchor="end" fill="#222" stroke="#222" stroke-width="0.18" font-family='"Liberation Sans", sans-serif'>250</text>
<text transform="translate(35,281.32) scale(1,1.13)" x="0" y="0" font-size="7.2" text-anchor="end" fill="#222" stroke="#222" stroke-width="0.18" font-family='"Liberation Sans", sans-serif'>300</text>
<text transform="translate(35,259.09) scale(1,1.13)" x="0" y="0" font-size="7.2" text-anchor="end" fill="#222" stroke="#222" stroke-width="0.18" font-family='"Liberation Sans", sans-serif'>350</text>
<text transform="translate(35,236.85) scale(1,1.13)" x="0" y="0" font-size="7.2" text-anchor="end" fill="#222" stroke="#222" stroke-width="0.18" font-family='"Liberation Sans", sans-serif'>400</text>
<text transform="translate(38.9,422.5) scale(1,1.13)" x="0" y="0" font-size="7.2" text-anchor="middle" fill="#222" stroke="#222" stroke-width="0.18" font-family='"Liberation Sans", sans-serif'>0</text>
<text transform="translate(90.5,422.5) scale(1,1.13)" x="0" y="0" font-size="7.2" text-anchor="middle" fill="#222" stroke="#222" stroke-width="0.18" font-family='"Liberation Sans", sans-serif'>1000</text>
<text transform="translate(142.1,422.5) scale(1,1.13)" x="0" y="0" font-size="7.2" text-anchor="middle" fill="#222" stroke="#222" stroke-width="0.18" font-family='"Liberation Sans", sans-serif'>2000</text>
<text transform="translate(193.7,422.5) scale(1,1.13)" x="0" y="0" font-size="7.2" text-anchor="middle" fill="#222" stroke="#222" stroke-width="0.18" font-family='"Liberation Sans", sans-serif'>3000</text>
<text transform="translate(245.3,422.5) scale(1,1.13)" x="0" y="0" font-size="7.2" text-anchor="middle" fill="#222" stroke="#222" stroke-width="0.18" font-family='"Liberation Sans", sans-serif'>4000</text>
<text x="149.3" y="436.5" font-size="9.35" text-anchor="middle" fill="#222" stroke="#222" stroke-width="0.3" font-family='"Liberation Sans", sans-serif'>Displacement into surface, <tspan font-style="italic">h</tspan> (nm)</text>
<text transform="translate(19,323) rotate(-90)" x="0" y="0" font-size="9.35" text-anchor="middle" fill="#222" stroke="#222" stroke-width="0.3" font-family='"Liberation Sans", sans-serif'>Load on sample, <tspan font-style="italic">P</tspan> (mN)</text>
<text x="3.2" y="241.4" font-size="15.2" text-anchor="start" fill="#151515" stroke="#151515" stroke-width="0.2" font-family='"Liberation Serif", serif'>(c)</text>
<rect x="337.9" y="232.7" width="121.8" height="88.1" fill="#fff" stroke="none" stroke-width="1"/>
<rect x="337.9" y="232.7" width="121.8" height="88.1" fill="none" stroke="#9a9a9a" stroke-width="0.9"/>
<text transform="translate(335.2,322.4) scale(1,1.1)" x="0" y="0" font-size="5.6" text-anchor="end" fill="#2a2a2a" stroke="#2a2a2a" stroke-width="0.2" font-family='"Liberation Sans", sans-serif'>0.00</text>
<text transform="translate(335.2,296.7) scale(1,1.1)" x="0" y="0" font-size="5.6" text-anchor="end" fill="#2a2a2a" stroke="#2a2a2a" stroke-width="0.2" font-family='"Liberation Sans", sans-serif'>0.05</text>
<text transform="translate(335.2,271) scale(1,1.1)" x="0" y="0" font-size="5.6" text-anchor="end" fill="#2a2a2a" stroke="#2a2a2a" stroke-width="0.2" font-family='"Liberation Sans", sans-serif'>0.10</text>
<text transform="translate(335.2,245.3) scale(1,1.1)" x="0" y="0" font-size="5.6" text-anchor="end" fill="#2a2a2a" stroke="#2a2a2a" stroke-width="0.2" font-family='"Liberation Sans", sans-serif'>0.15</text>
<text transform="translate(337.9,327.6) scale(1,1.1)" x="0" y="0" font-size="5.6" text-anchor="middle" fill="#2a2a2a" stroke="#2a2a2a" stroke-width="0.2" font-family='"Liberation Sans", sans-serif'>0</text>
<text transform="translate(378.1,327.6) scale(1,1.1)" x="0" y="0" font-size="5.6" text-anchor="middle" fill="#2a2a2a" stroke="#2a2a2a" stroke-width="0.2" font-family='"Liberation Sans", sans-serif'>20</text>
<text transform="translate(418.3,327.6) scale(1,1.1)" x="0" y="0" font-size="5.6" text-anchor="middle" fill="#2a2a2a" stroke="#2a2a2a" stroke-width="0.2" font-family='"Liberation Sans", sans-serif'>40</text>
<text transform="translate(458.5,327.6) scale(1,1.1)" x="0" y="0" font-size="5.6" text-anchor="middle" fill="#2a2a2a" stroke="#2a2a2a" stroke-width="0.2" font-family='"Liberation Sans", sans-serif'>60</text>
<polyline points="343.1,319.8 361.6,317.7 367,315.7 373.8,312.3 380.7,306.8 384.7,301.4 390.2,298.6 394.3,294.6 398.4,292.5 402.5,286.4 405.2,283.6 412,279 421.1,268.6 426.4,264.3 437.1,256.8 446.1,249.7 446.8,251.4 444.6,302.9 440.4,313.6 433.9,321" fill="none" stroke="#555" stroke-width="1.0" stroke-linejoin="round" stroke-linecap="butt"/>
<polyline points="343.1,319.8 361.6,317.7 368.4,315 376.6,310.2 382,304.1 386.1,298.6 392.9,293.9 399.8,287.1 405.2,283.6 413.6,278.2 420,270.7 426.4,263.2 435,255.7 442.5,247.1 446.8,245 453.2,237.5 453.9,238.6 452.6,255.7 451.1,281.4 447.9,298.6 440.4,321" fill="none" stroke="#22a878" stroke-width="1.2" stroke-linejoin="round" stroke-linecap="butt"/>
<polyline points="343.1,319.8 353.4,319.4 361.6,318.4 372.5,317.1 374.5,315 376.6,310.9 380.7,309.6 387.5,306.2 394.3,298.6 399.8,292.5 405.2,286.4 411.4,280.4 420,272.9 428.6,265.4 437.1,257.9 443.6,252.5 443.1,254.6 442.5,283.6 439.3,313.6 431.8,321" fill="none" stroke="#2cc0c4" stroke-width="1.2" stroke-linejoin="round" stroke-linecap="butt"/>
<polyline points="318.9,413.5 330.7,413.2 343.5,407.5 350,405.5 365,397 380,389.1 390.2,383.1 400.3,376.4 409.7,369.6 414.7,367 415.9,370 415.9,384 409.7,400.9 404.6,413.5" fill="none" stroke="#f08a80" stroke-width="1.0" stroke-dasharray="1.2,0.8" stroke-linejoin="round" stroke-linecap="butt"/>
<polyline points="318.9,413.5 334.5,413.2 343.5,409.4 356.2,404.3 368.9,397.9 380,392.2 397,381.4 413.9,368.7 424.9,362 424.4,367 420.7,392.5 414.7,413.5" fill="none" stroke="#a07070" stroke-width="1.0" stroke-dasharray="1,1" stroke-linejoin="round" stroke-linecap="butt"/>
<polyline points="318.9,413.5 334.5,413.2 343.5,409.4 356.2,404.3 368.9,397.9 380,392.2 397,381.4 413.9,368.7 426.1,359.9 429.2,360.3 440.2,354.3 440.6,356 440.2,375.5 434.2,394.2 428.3,413.5" fill="none" stroke="#b890d8" stroke-width="1.0" stroke-dasharray="1,1" stroke-linejoin="round" stroke-linecap="butt"/>
<polyline points="318.9,413.5 334.5,413.2 343.5,409.4 356.2,404.3 368.9,397.9 380,392.2 397,381.4 413.9,368.7 426.1,359.9 442.7,346.7 460.7,325.9 483,303.5 500,284.7 510.8,268.5 521.7,257 529.1,250.2 544,242 544.4,260.3 542.7,280.7 540.6,290 534.7,334.1 530.3,378.2 524.4,413" fill="none" stroke="#e8a820" stroke-width="1.4" stroke-dasharray="2.6,2.2" stroke-linejoin="round" stroke-linecap="butt"/>
<polyline points="318.9,413.5 334.5,413.2 343.5,409.4 356.2,404.3 368.9,397.9 380,392.2 397,381.4 413.9,368.7 426.1,359.9 442.7,346.7 460.7,325.9 483,303.5 500,286.1 508.1,276.6 516.3,265.7 521.7,259 527.1,256.9 533.2,254.2 533.9,258 533.9,280.7 533.2,290 527.4,334.1 522.4,378.2 516.2,413" fill="none" stroke="#a8a030" stroke-width="1.4" stroke-dasharray="2.6,2.2" stroke-linejoin="round" stroke-linecap="butt"/>
<polyline points="318.9,413.5 334.5,413 343.5,409 356.2,403.8 368.9,397.4 380,391.6 397,380.6 413.9,368 426.1,359.4 442.7,344.5 458.6,324.2 481,299.8 498,280.5 507.4,270.5 514.1,261.8 522,256.5 531.2,253.4 530.9,267.1 530.3,290 524.4,334.1 520,378.2 512.6,413" fill="none" stroke="#3a88d8" stroke-width="1.4" stroke-dasharray="2.6,2.2" stroke-linejoin="round" stroke-linecap="butt"/>
<polyline points="318.9,413.7 332.5,412.6 347,408.2 361.6,403 380.5,392.7 381.3,396.4 379.1,409.5 374.7,413.7" fill="none" stroke="#22a870" stroke-width="1.2" stroke-linejoin="round" stroke-linecap="butt"/>
<polyline points="318.9,413.7 332.5,412.6 347,408.2 361.6,403 377.6,394.2 377,405 375.5,413.7" fill="none" stroke="#555" stroke-width="1.0" stroke-linejoin="round" stroke-linecap="butt"/>
<polyline points="318.9,413.7 332.5,412.4 347,408 361.6,402.9 374.7,396.4 375.5,396.4 373.3,410.9 370.4,413.7" fill="none" stroke="#2cc0c4" stroke-width="1.6" stroke-linejoin="round" stroke-linecap="butt"/>
<line x1="318.9" y1="413.7" x2="547.2" y2="413.7" stroke="#5a5a5a" stroke-width="1.15" stroke-linecap="butt"/>
<line x1="547.2" y1="230.2" x2="547.2" y2="413.7" stroke="#6a6a6a" stroke-width="1.5" stroke-linecap="butt"/>
<line x1="318.9" y1="230.2" x2="547.2" y2="230.2" stroke="#2a2a2a" stroke-width="1.1" stroke-linecap="butt"/>
<line x1="318.9" y1="230.2" x2="318.9" y2="413.7" stroke="#888" stroke-width="2" stroke-linecap="butt"/>
<line x1="320.3" y1="333.8" x2="333.3" y2="333.8" stroke="#555" stroke-width="1.2" stroke-linecap="butt"/>
<text transform="translate(334.9,336.08) scale(1,1.12)" x="0" y="0" font-size="6.0" text-anchor="start" fill="#222" stroke="#222" stroke-width="0.12" font-family='"Liberation Sans", sans-serif'>(100) 50 nm</text>
<line x1="320.3" y1="340.95" x2="333.3" y2="340.95" stroke="#f4a8a8" stroke-width="1.1" stroke-dasharray="1.2,0.5" stroke-linecap="butt"/>
<text transform="translate(334.9,343.23) scale(1,1.12)" x="0" y="0" font-size="6.0" text-anchor="start" fill="#222" stroke="#222" stroke-width="0.12" font-family='"Liberation Sans", sans-serif'>(100) 100 nm</text>
<line x1="320.3" y1="348.1" x2="333.3" y2="348.1" stroke="#3a80d8" stroke-width="1.5" stroke-dasharray="2,1.8" stroke-linecap="butt"/>
<text transform="translate(334.9,350.38) scale(1,1.12)" x="0" y="0" font-size="6.0" text-anchor="start" fill="#222" stroke="#222" stroke-width="0.12" font-family='"Liberation Sans", sans-serif'>(100) 200 nm</text>
<line x1="320.3" y1="355.25" x2="333.3" y2="355.25" stroke="#22a870" stroke-width="1.4" stroke-linecap="butt"/>
<text transform="translate(334.9,357.53) scale(1,1.12)" x="0" y="0" font-size="6.0" text-anchor="start" fill="#222" stroke="#222" stroke-width="0.12" font-family='"Liberation Sans", sans-serif'>(110) 50 nm</text>
<line x1="320.3" y1="362.4" x2="333.3" y2="362.4" stroke="#c8b0e0" stroke-width="1.1" stroke-dasharray="1.2,0.5" stroke-linecap="butt"/>
<text transform="translate(334.9,364.68) scale(1,1.12)" x="0" y="0" font-size="6.0" text-anchor="start" fill="#222" stroke="#222" stroke-width="0.12" font-family='"Liberation Sans", sans-serif'>(110) 100 nm</text>
<line x1="320.3" y1="369.55" x2="333.3" y2="369.55" stroke="#e0a020" stroke-width="1.3" stroke-dasharray="2,1.8" stroke-linecap="butt"/>
<text transform="translate(334.9,371.83) scale(1,1.12)" x="0" y="0" font-size="6.0" text-anchor="start" fill="#222" stroke="#222" stroke-width="0.12" font-family='"Liberation Sans", sans-serif'>(110) 200 nm</text>
<line x1="320.3" y1="376.7" x2="333.3" y2="376.7" stroke="#22c0c6" stroke-width="2.0" stroke-linecap="butt"/>
<text transform="translate(334.9,378.98) scale(1,1.12)" x="0" y="0" font-size="6.0" text-anchor="start" fill="#222" stroke="#222" stroke-width="0.12" font-family='"Liberation Sans", sans-serif'>(111) 50 nm</text>
<line x1="320.3" y1="383.85" x2="333.3" y2="383.85" stroke="#d0a098" stroke-width="1.1" stroke-dasharray="1.2,0.5" stroke-linecap="butt"/>
<text transform="translate(334.9,386.13) scale(1,1.12)" x="0" y="0" font-size="6.0" text-anchor="start" fill="#222" stroke="#222" stroke-width="0.12" font-family='"Liberation Sans", sans-serif'>(111) 100 nm</text>
<line x1="320.3" y1="391" x2="333.3" y2="391" stroke="#a0a020" stroke-width="1.3" stroke-dasharray="2,1.8" stroke-linecap="butt"/>
<text transform="translate(334.9,393.28) scale(1,1.12)" x="0" y="0" font-size="6.0" text-anchor="start" fill="#222" stroke="#222" stroke-width="0.12" font-family='"Liberation Sans", sans-serif'>(111) 200 nm</text>
<text transform="translate(315,416.89) scale(1,1.13)" x="0" y="0" font-size="7.6" text-anchor="end" fill="#222" stroke="#222" stroke-width="0.18" font-family='"Liberation Sans", sans-serif'>0.0</text>
<text transform="translate(315,390.59) scale(1,1.13)" x="0" y="0" font-size="7.6" text-anchor="end" fill="#222" stroke="#222" stroke-width="0.18" font-family='"Liberation Sans", sans-serif'>0.2</text>
<text transform="translate(315,364.29) scale(1,1.13)" x="0" y="0" font-size="7.6" text-anchor="end" fill="#222" stroke="#222" stroke-width="0.18" font-family='"Liberation Sans", sans-serif'>0.4</text>
<text transform="translate(315,337.99) scale(1,1.13)" x="0" y="0" font-size="7.6" text-anchor="end" fill="#222" stroke="#222" stroke-width="0.18" font-family='"Liberation Sans", sans-serif'>0.6</text>
<text transform="translate(315,311.69) scale(1,1.13)" x="0" y="0" font-size="7.6" text-anchor="end" fill="#222" stroke="#222" stroke-width="0.18" font-family='"Liberation Sans", sans-serif'>0.8</text>
<text transform="translate(315,285.39) scale(1,1.13)" x="0" y="0" font-size="7.6" text-anchor="end" fill="#222" stroke="#222" stroke-width="0.18" font-family='"Liberation Sans", sans-serif'>1.0</text>
<text transform="translate(315,259.09) scale(1,1.13)" x="0" y="0" font-size="7.6" text-anchor="end" fill="#222" stroke="#222" stroke-width="0.18" font-family='"Liberation Sans", sans-serif'>1.2</text>
<text transform="translate(315,232.79) scale(1,1.13)" x="0" y="0" font-size="7.6" text-anchor="end" fill="#222" stroke="#222" stroke-width="0.18" font-family='"Liberation Sans", sans-serif'>1.4</text>
<text transform="translate(318.9,424) scale(1,1.13)" x="0" y="0" font-size="7.4" text-anchor="middle" fill="#222" stroke="#222" stroke-width="0.18" font-family='"Liberation Sans", sans-serif'>0</text>
<text transform="translate(373.05,424) scale(1,1.13)" x="0" y="0" font-size="7.4" text-anchor="middle" fill="#222" stroke="#222" stroke-width="0.18" font-family='"Liberation Sans", sans-serif'>50</text>
<text transform="translate(427.2,424) scale(1,1.13)" x="0" y="0" font-size="7.4" text-anchor="middle" fill="#222" stroke="#222" stroke-width="0.18" font-family='"Liberation Sans", sans-serif'>100</text>
<text transform="translate(481.35,424) scale(1,1.13)" x="0" y="0" font-size="7.4" text-anchor="middle" fill="#222" stroke="#222" stroke-width="0.18" font-family='"Liberation Sans", sans-serif'>150</text>
<text transform="translate(535.5,424) scale(1,1.13)" x="0" y="0" font-size="7.4" text-anchor="middle" fill="#222" stroke="#222" stroke-width="0.18" font-family='"Liberation Sans", sans-serif'>200</text>
<text x="433.2" y="438" font-size="9.66" text-anchor="middle" fill="#222" stroke="#222" stroke-width="0.3" font-family='"Liberation Sans", sans-serif'>Displacement into surface, <tspan font-style="italic">h</tspan> (nm)</text>
<text transform="translate(300.8,321.25) rotate(-90)" x="0" y="0" font-size="9.5" text-anchor="middle" fill="#222" stroke="#222" stroke-width="0.3" font-family='"Liberation Sans", sans-serif'>Load on sample, <tspan font-style="italic">P</tspan> (mN)</text>
<text x="283.6" y="242.4" font-size="15.2" text-anchor="start" fill="#151515" stroke="#151515" stroke-width="0.2" font-family='"Liberation Serif", serif'>(d)</text>
</g>
</svg></body></html>
